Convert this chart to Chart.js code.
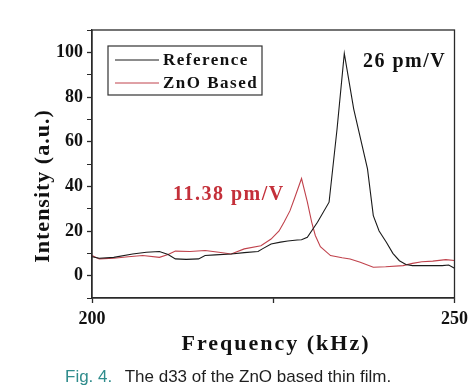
<!DOCTYPE html>
<html>
<head>
<meta charset="utf-8">
<script src="https://cdn.jsdelivr.net/npm/chart.js@4.4.1/dist/chart.umd.min.js"></script>
<style>
  html, body { margin: 0; padding: 0; background: #fff; }
  #wrap { position: relative; width: 474px; height: 389px; }
  #caption {
    position: absolute; left: 65px; top: 367px;
    font-family: "Liberation Sans", Arial, sans-serif; font-size: 17px;
    color: #1f1f1f; white-space: nowrap; line-height: 20px;
  }
  #caption .fig { color: #2f8c8c; margin-right: 8px; }
</style>
</head>
<body>
<div id="wrap">
  <canvas id="c" width="474" height="389"></canvas>
  <div id="caption"><span class="fig">Fig. 4.</span> The d33 of the ZnO based thin film.</div>
</div>
<script>
// frequentie (kHz) en intensiteit (a.u.)
const refFreq = [200, 201, 203, 205.6, 207.5, 209.3, 210.5, 211.5, 213, 214.7, 215.6, 217, 219.2, 221, 222.9,
  223.5, 224.7, 226, 227, 228.3, 228.9, 229.7, 231.1, 232.7, 233.8, 234.8, 236.1, 238, 238.8, 239.6, 240.6,
  241.5, 242.4, 243.3, 244.2, 246, 248.3, 249.2, 250];
const refIntensity = [8.5, 7.8, 8.2, 9.7, 10.5, 10.8, 9.5, 7.5, 7.3, 7.5, 9, 9.3, 9.7, 10.3, 10.8,
  12, 14.2, 15, 15.5, 16, 16.1, 17.2, 23.9, 32.9, 65.7, 99.5, 74.6, 47.8, 26.9, 20, 15,
  10, 6.7, 5, 4.5, 4.5, 4.5, 4.8, 3.3];

const znoFreq = [200, 201, 203, 205, 207, 209.3, 210.5, 211.5, 213.5, 215.6, 217.5, 219.2, 221, 223.3, 224.7,
  225.8, 226.5, 227.3, 227.9, 228.9, 229.7, 230.3, 230.8, 231.5, 232.9, 234.5, 235.6, 237, 238.8, 240.5,
  242.9, 244.2, 245.5, 247, 248.8, 250];
const znoIntensity = [9, 7.5, 7.8, 8.5, 9, 8.2, 9.5, 11, 10.8, 11.3, 10.5, 9.7, 12, 13.4, 16.4,
  20, 24, 29, 34.3, 43.5, 33, 24, 18, 13, 9, 8, 7.5, 6, 3.8, 4,
  4.5, 5.5, 6.2, 6.5, 7.2, 6.8];

const seriesLabels = ['Reference', 'ZnO Based'];
const seriesColors = ['#1a1a1a', '#c0424c'];
const xTickLabels = [200, 250];
const yTickLabels = [0, 20, 40, 60, 80, 100];

const toPoints = (xs, ys) => xs.map((x, i) => ({ x, y: ys[i] }));
const SERIF = '"Liberation Serif", "Times New Roman", serif';

// Kader, aslabels, legenda en annotaties
const decor = {
  id: 'decor',
  afterDatasetsDraw(chart) {
    const { ctx, chartArea: a } = chart;
    ctx.save();
    ctx.strokeStyle = '#2a2a2a';
    ctx.lineWidth = 1.3;
    ctx.strokeRect(a.left, a.top, a.right - a.left, a.bottom - a.top);

    // legenda
    const lx = 108, ly = 46, lw = 154, lh = 49;
    ctx.fillStyle = '#fff';
    ctx.fillRect(lx, ly, lw, lh);
    ctx.lineWidth = 1.2;
    ctx.strokeStyle = '#333';
    ctx.strokeRect(lx, ly, lw, lh);
    ctx.font = 'bold 17px ' + SERIF;
    ctx.letterSpacing = '1.5px';
    ctx.textBaseline = 'middle';
    ctx.textAlign = 'left';
    chart.data.datasets.forEach((ds, i) => {
      const y = [60, 83][i];
      ctx.strokeStyle = ds.borderColor;
      ctx.lineWidth = 1;
      ctx.beginPath();
      ctx.moveTo(115, y);
      ctx.lineTo(159, y);
      ctx.stroke();
      ctx.fillStyle = '#111';
      ctx.fillText(ds.label, 163, y + 1);
    });

    // annotaties
    ctx.font = 'bold 20px ' + SERIF;
    ctx.fillStyle = '#111';
    ctx.fillText('26 pm/V', 363, 62);
    ctx.fillStyle = '#c4303a';
    ctx.fillText('11.38 pm/V', 173, 195);

    // astitels
    ctx.fillStyle = '#111';
    ctx.font = 'bold 22px ' + SERIF;
    ctx.letterSpacing = '2px';
    ctx.textAlign = 'center';
    ctx.fillText('Frequency (kHz)', 276, 344);
    ctx.translate(43, 186);
    ctx.rotate(-Math.PI / 2);
    ctx.letterSpacing = '1px';
    ctx.fillText('Intensity (a.u.)', 0, 0);
    ctx.restore();
  }
};

new Chart(document.getElementById('c'), {
  type: 'line',
  data: {
    datasets: [
      { label: seriesLabels[0], data: toPoints(refFreq, refIntensity), borderColor: seriesColors[0] },
      { label: seriesLabels[1], data: toPoints(znoFreq, znoIntensity), borderColor: seriesColors[1] }
    ]
  },
  options: {
    responsive: false,
    animation: false,
    layout: { padding: { top: 30, right: 15, left: 0, bottom: 0 } },
    elements: {
      line: { borderWidth: 1.1, tension: 0 },
      point: { radius: 0 }
    },
    plugins: { legend: { display: false }, tooltip: { enabled: false } },
    scales: {
      x: {
        type: 'linear', min: 200, max: 250,
        afterFit: (s) => { s.height = 389 - 298; },
        ticks: {
          stepSize: 25, padding: 6, color: '#111', autoSkip: false, maxRotation: 0,
          font: { family: SERIF, size: 18, weight: 'bold' },
          callback: (v) => (xTickLabels.includes(v) ? String(v) : '')
        },
        grid: { drawOnChartArea: false, tickLength: 5, color: '#2a2a2a', tickWidth: 1.3 },
        border: { color: '#2a2a2a', width: 1.3 }
      },
      y: {
        min: -10, max: 110,
        afterFit: (s) => { s.width = 92; },
        ticks: {
          stepSize: 10, padding: 4, color: '#111', autoSkip: false,
          font: { family: SERIF, size: 18, weight: 'bold' },
          callback: (v) => (yTickLabels.includes(v) ? String(v) : '')
        },
        grid: {
          drawOnChartArea: false, tickLength: 5, color: '#2a2a2a',
          tickWidth: (c) => (c.tick && yTickLabels.includes(c.tick.value) ? 1.3 : 1)
        },
        border: { color: '#2a2a2a', width: 1.3 }
      }
    }
  },
  plugins: [decor]
});
</script>
</body>
</html>
